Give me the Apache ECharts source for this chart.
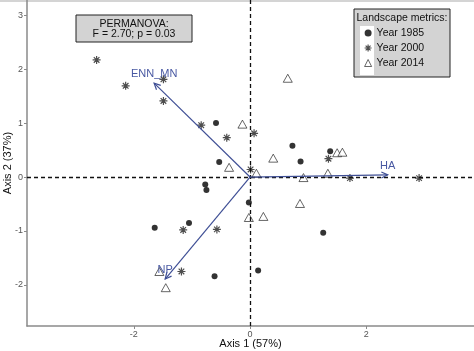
<!DOCTYPE html>
<html>
<head>
<meta charset="utf-8">
<script src="https://cdn.jsdelivr.net/npm/echarts@6/dist/echarts.min.js"></script>
<style>
  html, body { margin: 0; padding: 0; background: #fff; }
  #main { width: 474px; height: 351px; }
</style>
</head>
<body>
<div id="main"></div>
<script>
// points (axis 1, axis 2)
var year1985 = [
  [-0.585, 1.0], [-0.53, 0.28], [-0.77, -0.14], [-0.75, -0.24], [0.73, 0.58],
  [1.38, 0.48], [0.87, 0.29], [-0.02, -0.47], [1.26, -1.03], [0.14, -1.73],
  [-1.64, -0.94], [-1.05, -0.85], [-0.61, -1.84]
];
var year2000 = [
  [-2.64, 2.17], [-2.14, 1.69], [-1.49, 1.81], [-1.49, 1.41], [-0.84, 0.96],
  [-0.40, 0.73], [0.07, 0.81], [0.01, 0.14], [1.35, 0.34], [1.72, -0.02],
  [2.91, -0.02], [-1.15, -0.98], [-0.57, -0.97], [-1.18, -1.75]
];
var year2014 = [
  [-0.36, 0.18], [-0.13, 0.98], [0.11, 0.07], [0.65, 1.83], [1.50, 0.45],
  [1.59, 0.46], [0.40, 0.35], [0.92, -0.01], [1.34, 0.07], [0.86, -0.49],
  [-0.02, -0.75], [0.23, -0.73], [-1.56, -1.75], [-1.45, -2.05]
];

// metric vectors
var arrowNames = ['ENN_MN', 'NP', 'HA'];
var arrowX = [-1.65, -1.46, 2.37];
var arrowY = [1.74, -1.89, 0.04];

var xTicks = [-2, 0, 2];
var yTicks = [-2, -1, 0, 1, 2, 3];

var blue = '#3f4f95';
var fontFam = 'Liberation Sans, Arial, sans-serif';
var asterisk = 'path://M5,0L5,10M0,5L10,5M1.5,1.5L8.5,8.5M8.5,1.5L1.5,8.5';

var dotStyle = { color: '#000' };
var starStyle = { color: '#333', borderColor: '#222', borderWidth: 1.2 };
var triStyle = { color: '#fff', borderColor: '#111', borderWidth: 0.8 };

var chart = echarts.init(document.getElementById('main'));

var arrowData = arrowNames.map(function (n, i) { return [arrowX[i], arrowY[i]]; });

var option = {
  animation: false,
  textStyle: { fontFamily: fontFam },
  grid: { left: 27, right: 0, top: 0, bottom: 25, outerBoundsMode: 'none', containLabel: false },
  xAxis: {
    type: 'value', min: -3.838, max: 3.855,
    name: 'Axis 1 (57%)', nameLocation: 'middle', nameGap: 12, nameMoveOverlap: false,
    nameTextStyle: { color: '#111', fontSize: 11 },
    splitLine: { show: false },
    axisLine: { onZero: false, lineStyle: { color: '#8a8a8a', width: 1.5 } },
    axisTick: { length: 3, customValues: xTicks, lineStyle: { color: '#8a8a8a' } },
    axisLabel: { customValues: xTicks, color: '#555', fontSize: 9, margin: 4 }
  },
  yAxis: {
    type: 'value', min: -2.76, max: 3.28,
    name: 'Axis 2 (37%)', nameLocation: 'middle', nameGap: 14, nameMoveOverlap: false,
    nameTextStyle: { color: '#111', fontSize: 11 },
    splitLine: { show: false },
    axisLine: { onZero: false, lineStyle: { color: '#8a8a8a', width: 1.5 } },
    axisTick: { length: 3, customValues: yTicks, lineStyle: { color: '#8a8a8a' } },
    axisLabel: { customValues: yTicks, color: '#555', fontSize: 9, margin: 4 }
  },
  legend: {
    data: [
      { name: 'Year 1985', icon: 'circle', itemStyle: dotStyle },
      { name: 'Year 2000', icon: asterisk, itemStyle: starStyle },
      { name: 'Year 2014', icon: 'triangle', itemStyle: triStyle }
    ],
    orient: 'vertical', left: 364, top: 27, padding: 0,
    itemWidth: 7, itemHeight: 7, itemGap: 3,
    textStyle: { fontSize: 10.5, lineHeight: 12, color: '#111', fontFamily: fontFam }
  },
  graphic: [
    { type: 'rect', shape: { x: 0, y: 0, width: 474, height: 2 }, style: { fill: '#d4d4d4' }, z: 0 },
    { type: 'rect', shape: { x: 76, y: 15, width: 116, height: 27 },
      style: { fill: '#d3d3d3', stroke: '#222', lineWidth: 1 }, z: 5 },
    { type: 'text', x: 134, y: 24, z: 6,
      style: { text: 'PERMANOVA:', fill: '#111', font: '10.5px ' + fontFam, align: 'center', verticalAlign: 'middle' } },
    { type: 'text', x: 134, y: 34.5, z: 6,
      style: { text: 'F = 2.70; p = 0.03', fill: '#111', font: '10.5px ' + fontFam, align: 'center', verticalAlign: 'middle' } },
    { type: 'rect', shape: { x: 354, y: 9, width: 96, height: 68 },
      style: { fill: '#d3d3d3', stroke: '#222', lineWidth: 1 }, z: 1 },
    { type: 'rect', shape: { x: 360, y: 26, width: 14, height: 49 }, style: { fill: '#fff' }, z: 2 },
    { type: 'text', x: 402, y: 18, z: 2,
      style: { text: 'Landscape metrics:', fill: '#111', font: '10.5px ' + fontFam, align: 'center', verticalAlign: 'middle' } }
  ],
  series: [
    {
      name: 'Year 1985', type: 'scatter', data: year1985,
      symbol: 'circle', symbolSize: 6,
      itemStyle: dotStyle,
      markLine: {
        silent: true, symbol: 'none', label: { show: false },
        lineStyle: { color: '#111', type: [4, 3], width: 1.3 },
        data: [{ xAxis: 0 }, { yAxis: 0 }]
      }
    },
    {
      name: 'Year 2000', type: 'scatter', data: year2000,
      symbol: asterisk, symbolSize: 8,
      itemStyle: starStyle
    },
    {
      name: 'Year 2014', type: 'scatter', data: year2014,
      symbol: 'triangle', symbolSize: [9, 8],
      itemStyle: triStyle
    },
    {
      type: 'custom', data: arrowData, z: 5,
      renderItem: function (params, api) {
        var o = api.coord([0, 0]);
        var p = api.coord([api.value(0), api.value(1)]);
        var ang = Math.atan2(p[1] - o[1], p[0] - o[0]);
        var h = 7;
        var a1 = ang + Math.PI - 0.45, a2 = ang + Math.PI + 0.45;
        return {
          type: 'group',
          children: [
            { type: 'line', shape: { x1: o[0], y1: o[1], x2: p[0], y2: p[1] },
              style: { stroke: blue, lineWidth: 1.2 } },
            { type: 'polyline',
              shape: { points: [[p[0] + h * Math.cos(a1), p[1] + h * Math.sin(a1)], p,
                                [p[0] + h * Math.cos(a2), p[1] + h * Math.sin(a2)]] },
              style: { stroke: blue, fill: null, lineWidth: 1.2 } },
            { type: 'text', x: p[0], y: p[1] - 9,
              style: { text: arrowNames[params.dataIndex], fill: '#4858a2',
                       font: '11px ' + fontFam, align: 'center', verticalAlign: 'middle' } }
          ]
        };
      }
    }
  ]
};

chart.setOption(option);
</script>
</body>
</html>
